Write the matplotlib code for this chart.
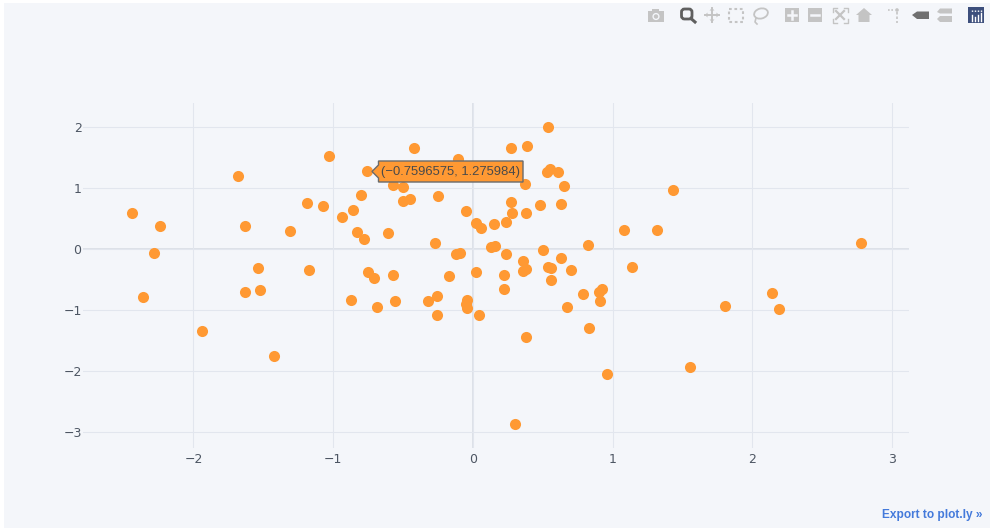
import matplotlib
matplotlib.use("Agg")
import matplotlib.pyplot as plt
from matplotlib.patches import Rectangle, Circle, Polygon, Ellipse, FancyBboxPatch

x_values = [-2.44, -2.24, -2.28, -2.36, -1.94, -1.68, -1.63, -1.63, -1.54, -1.52,
            -1.42, -1.31, -1.19, -1.17, -1.07, -1.03, -0.94, -0.87, -0.86, -0.83,
            -0.80, -0.78, -0.7596575, -0.75, -0.71, -0.69, -0.61, -0.57, -0.56, -0.57,
            -0.50, -0.50, -0.45, -0.42, -0.32, -0.27, -0.26, -0.26, -0.25, -0.17,
            -0.11, -0.12, -0.09, -0.05, -0.05, -0.04, -0.04, 0.02, 0.02, 0.04,
            0.06, 0.13, 0.15, 0.16, 0.22, 0.22, 0.24, 0.24, 0.27, 0.27,
            0.28, 0.30, 0.36, 0.36, 0.37, 0.38, 0.38, 0.38, 0.39, 0.48,
            0.50, 0.53, 0.54, 0.55, 0.54, 0.56, 0.56, 0.61, 0.63, 0.63,
            0.65, 0.67, 0.70, 0.79, 0.82, 0.83, 0.90, 0.92, 0.91, 0.96,
            1.08, 1.14, 1.32, 1.43, 1.55, 1.80, 2.14, 2.19, 2.78]
y_values = [0.59, 0.37, -0.07, -0.78, -1.35, 1.20, 0.38, -0.70, -0.31, -0.68,
            -1.76, 0.29, 0.76, -0.35, 0.70, 1.52, 0.53, -0.84, 0.64, 0.27,
            0.88, 0.16, 1.275984, -0.37, -0.48, -0.95, 0.26, -0.42, -0.85, 1.05,
            1.02, 0.79, 0.81, 1.65, -0.86, 0.10, -0.77, -1.08, 0.86, -0.44,
            1.48, -0.09, -0.07, -0.90, 0.62, -0.83, -0.97, 0.43, -0.37, -1.08,
            0.34, 0.03, 0.41, 0.04, -0.42, -0.66, 0.44, -0.08, 0.77, 1.65,
            0.59, -2.87, -0.20, -0.36, 1.06, -0.33, -1.45, 0.59, 1.68, 0.72,
            -0.02, 1.26, 2.00, 1.31, -0.30, -0.32, -0.51, 1.26, -0.15, 0.73,
            1.03, -0.95, -0.34, -0.73, 0.06, -1.29, -0.70, -0.66, -0.85, -2.04,
            0.31, -0.30, 0.31, 0.97, -1.93, -0.93, -0.72, -0.98, 0.09]
x_ticks = [-2, -1, 0, 1, 2, 3]
y_ticks = [-3, -2, -1, 0, 1, 2]
hover_text = "(\u22120.7596575, 1.275984)"
export_text = "Export to plot.ly \u00bb"

W, H = 999, 532
PAPER = "#f4f6fa"
GRID = "#e2e6ee"
ZERO = "#dde1e8"
ORANGE = "#ff9933"
TICK = "#4d5663"
LIGHT = "#c4c4c4"
DARK = "#5f5f5f"

fig = plt.figure(figsize=(W / 100, H / 100), dpi=100, facecolor="white")

# background and overlay use pixel coordinates, y going down
bg = fig.add_axes([0, 0, 1, 1], zorder=0)
bg.set_xlim(0, W)
bg.set_ylim(H, 0)
bg.axis("off")
bg.add_patch(Rectangle((4, 3), 986, 524.5, fc=PAPER, ec="none"))

ax = fig.add_axes([83 / W, 1 - 448 / H, (909 - 83) / W, (448 - 103) / H], zorder=1)
ax.patch.set_alpha(0)
ax.set_xlim(-2.79, 3.12)
ax.set_ylim(-3.26, 2.39)
for spine in ax.spines.values():
    spine.set_visible(False)
ax.set_xticks(x_ticks)
ax.set_yticks(y_ticks)
ax.grid(True, color=GRID, linewidth=0.75)
ax.set_axisbelow(True)
ax.tick_params(length=0, labelsize=9, labelcolor=TICK)
ax.tick_params(axis="x", pad=3.5)
ax.tick_params(axis="y", pad=1)
ax.axhline(0, color=ZERO, linewidth=1.4, zorder=0.5)
ax.axvline(0, color=ZERO, linewidth=1.4, zorder=0.5)
ax.scatter(x_values, y_values, s=64, color=ORANGE, linewidths=0, zorder=3, clip_on=False)

top = fig.add_axes([0, 0, 1, 1], zorder=2)
top.set_xlim(0, W)
top.set_ylim(H, 0)
top.axis("off")
top.patch.set_alpha(0)

# hover label
top.add_patch(Polygon([(372, 171.5), (378.5, 165), (378.5, 161), (523, 161), (523, 182),
                       (378.5, 182), (378.5, 178)],
                      fc=ORANGE, ec="#6a6a6a", lw=1, joinstyle="miter"))
top.text(381, 171.8, hover_text, family="Liberation Sans", fontsize=9.4, color="#4a4a4a",
         ha="left", va="center")

top.text(983, 515, export_text, family="Liberation Sans", fontsize=8.6, fontweight="bold",
         color="#447adb", ha="right", va="center")

# modebar icons
top.add_patch(Rectangle((648, 11), 16, 11, fc=LIGHT, ec="none"))
top.add_patch(Rectangle((652, 9), 7, 3, fc=LIGHT, ec="none"))
top.add_patch(Circle((656, 16.5), 3.6, fc=PAPER, ec="none"))
top.add_patch(Circle((656, 16.5), 2.2, fc=LIGHT, ec="none"))

top.add_patch(FancyBboxPatch((683, 10.5), 7.5, 7, boxstyle="round,pad=1.5,rounding_size=3",
                             fc="none", ec=DARK, lw=2))
top.plot([691, 695], [18.5, 22], color=DARK, lw=2.2)

top.plot([705, 719], [15, 15], color=LIGHT, lw=1.4)
top.plot([712, 712], [8, 22], color=LIGHT, lw=1.4)
for px, py, dx, dy in [(705, 15, 2.5, 0), (719, 15, -2.5, 0), (712, 8, 0, 2.5), (712, 22, 0, -2.5)]:
    top.add_patch(Polygon([(px, py), (px + dx + dy, py + dy + dx), (px + dx - dy, py + dy - dx)],
                          fc=LIGHT, ec="none"))

top.add_patch(Rectangle((729, 8.5), 14, 13, fc="none", ec=LIGHT, lw=1.5, ls=(0, (1.3, 1.3))))

top.add_patch(Ellipse((761, 13.5), 14, 10, angle=-15, fc="none", ec=LIGHT, lw=1.3))
top.plot([756, 755, 757], [18, 22, 24], color=LIGHT, lw=1.2)

for cx in (792, 815):
    top.add_patch(Rectangle((cx - 7, 8), 14, 14, fc=LIGHT, ec="none"))
    top.plot([cx - 4, cx + 4], [15, 15], color=PAPER, lw=1.8)
top.plot([792, 792], [11, 19], color=PAPER, lw=1.8)

for sx, sy in [(-1, -1), (1, -1), (-1, 1), (1, 1)]:
    ox, oy = 840 + sx * 7.5, 15 + sy * 7.5
    top.plot([ox - sx * 4, ox, ox], [oy, oy, oy - sy * 4], color=LIGHT, lw=1)
top.plot([836, 844], [11, 19], color=LIGHT, lw=1.6)
top.plot([836, 844], [19, 11], color=LIGHT, lw=1.6)

top.add_patch(Polygon([(864, 8), (872, 15), (869.5, 15), (869.5, 22), (858.5, 22), (858.5, 15), (856, 15)],
                      fc=LIGHT, ec="none"))

top.plot([888, 893], [10, 10], color=LIGHT, lw=1.2, ls=(0, (1, 1)))
top.plot([897, 897], [12, 23], color=LIGHT, lw=1.2, ls=(0, (1.5, 1.2)))
top.add_patch(Circle((897, 10), 1.8, fc=LIGHT, ec="none"))

top.add_patch(Polygon([(912, 15), (917, 11.5), (929, 11.5), (929, 19), (917, 19)], fc="#707070", ec="none"))
top.add_patch(Polygon([(937, 12), (940, 8.5), (952, 8.5), (952, 13.5), (940, 13.5)], fc=LIGHT, ec="none"))
top.add_patch(Polygon([(937, 19), (940, 16), (952, 16), (952, 22), (940, 22)], fc=LIGHT, ec="none"))

top.add_patch(Rectangle((968, 7), 16, 16, fc="#3d4f7c", ec="none"))
for bx, by in [(971.5, 15), (974.5, 17), (977.5, 15), (980.5, 13)]:
    top.plot([bx, bx], [by, 20.5], color="white", lw=1)
    top.plot([bx, bx], [10, 11.5], color="white", lw=1, ls=(0, (1, 1)))

fig.savefig("out.png", dpi=100, facecolor="white")
